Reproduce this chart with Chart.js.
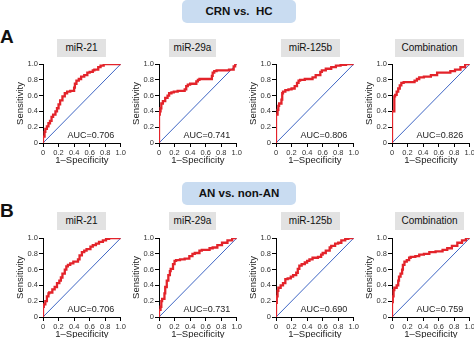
<!DOCTYPE html>
<html>
<head>
<meta charset="utf-8">
<script src="https://cdn.jsdelivr.net/npm/chart.js@4.4.1/dist/chart.umd.min.js"></script>
<style>
  body { margin: 0; width: 474px; height: 338px; overflow: hidden; background: #fff; position: relative;
         font-family: 'Liberation Sans', Arial, sans-serif; color: #111; }
  .group { position: absolute; background: #c9dcf1; border-radius: 5px; font-weight: bold; font-size: 11.5px;
           text-align: center; white-space: pre; }
  .marker { position: absolute; background: #e2e2e2; font-size: 10px; text-align: center; height: 18px; line-height: 18px; }
  .letter { position: absolute; font-weight: bold; font-size: 19px; }
  canvas { position: absolute; }
</style>
</head>
<body>
<script>
const markers = ['miR-21', 'miR-29a', 'miR-125b', 'Combination'];
const groups = ['CRN vs.  HC', 'AN vs. non-AN'];
const aucCrn = ['0.706', '0.741', '0.806', '0.826'];
const aucAn = ['0.706', '0.731', '0.690', '0.759'];
const tickLabels = ['0', '0.2', '0.4', '0.6', '0.8', '1.0'];

// ROC points as [1-specificity, sensitivity]
const crnMiR21 = [[0,0],[0,0.04],[0.02,0.08],[0.03,0.14],[0.05,0.18],[0.07,0.21],[0.09,0.25],[0.11,0.28],[0.13,0.33],[0.16,0.36],[0.18,0.40],[0.20,0.44],[0.22,0.49],[0.25,0.54],[0.28,0.59],[0.31,0.63],[0.35,0.65],[0.40,0.66],[0.41,0.70],[0.43,0.75],[0.46,0.79],[0.49,0.81],[0.53,0.84],[0.57,0.86],[0.60,0.89],[0.64,0.90],[0.66,0.92],[0.71,0.93],[0.74,0.96],[0.78,0.98],[0.82,1],[1,1]];
const crnMiR29a = [[0,0],[0,0.10],[0,0.23],[0.01,0.36],[0.02,0.40],[0.03,0.44],[0.05,0.50],[0.08,0.53],[0.11,0.57],[0.13,0.60],[0.16,0.63],[0.19,0.64],[0.24,0.65],[0.33,0.66],[0.35,0.68],[0.37,0.72],[0.40,0.74],[0.48,0.75],[0.50,0.78],[0.52,0.80],[0.58,0.81],[0.68,0.81],[0.69,0.85],[0.71,0.89],[0.74,0.91],[0.81,0.92],[0.90,0.92],[0.96,0.93],[0.98,0.97],[1,1]];
const crnMiR125b = [[0,0],[0,0.17],[0,0.33],[0.02,0.36],[0.03,0.42],[0.04,0.47],[0.07,0.50],[0.08,0.55],[0.09,0.63],[0.12,0.65],[0.16,0.67],[0.20,0.68],[0.24,0.69],[0.27,0.72],[0.29,0.76],[0.31,0.79],[0.37,0.80],[0.43,0.81],[0.47,0.81],[0.51,0.83],[0.57,0.86],[0.59,0.90],[0.64,0.92],[0.71,0.94],[0.77,0.96],[0.83,0.98],[0.90,0.99],[1,1]];
const crnCombo = [[0,0],[0,0.19],[0,0.38],[0.03,0.40],[0.03,0.48],[0.04,0.59],[0.06,0.61],[0.08,0.65],[0.10,0.69],[0.12,0.73],[0.15,0.76],[0.20,0.77],[0.29,0.77],[0.32,0.79],[0.35,0.81],[0.41,0.83],[0.50,0.84],[0.58,0.86],[0.67,0.89],[0.75,0.89],[0.81,0.91],[0.88,0.93],[0.94,0.96],[1,1]];
const anMiR21 = [[0,0],[0,0.09],[0.01,0.13],[0.03,0.16],[0.05,0.20],[0.07,0.26],[0.08,0.30],[0.12,0.31],[0.15,0.35],[0.18,0.38],[0.21,0.43],[0.23,0.46],[0.25,0.50],[0.28,0.55],[0.30,0.60],[0.32,0.64],[0.35,0.66],[0.39,0.68],[0.45,0.70],[0.47,0.73],[0.50,0.78],[0.53,0.82],[0.56,0.84],[0.61,0.86],[0.64,0.89],[0.68,0.91],[0.72,0.93],[0.77,0.95],[0.81,0.97],[0.85,0.99],[0.91,1],[1,1]];
const anMiR29a = [[0,0],[0,0.05],[0.02,0.09],[0.03,0.13],[0.04,0.20],[0.07,0.23],[0.08,0.30],[0.10,0.38],[0.12,0.46],[0.14,0.53],[0.15,0.58],[0.18,0.61],[0.20,0.67],[0.22,0.71],[0.27,0.72],[0.33,0.73],[0.39,0.74],[0.43,0.77],[0.46,0.80],[0.52,0.81],[0.55,0.84],[0.65,0.85],[0.69,0.87],[0.75,0.88],[0.81,0.91],[0.88,0.94],[0.94,0.97],[1,1]];
const anMiR125b = [[0,0],[0,0.07],[0.01,0.18],[0.02,0.26],[0.03,0.33],[0.06,0.37],[0.09,0.40],[0.12,0.43],[0.15,0.48],[0.19,0.49],[0.22,0.51],[0.26,0.53],[0.28,0.56],[0.30,0.61],[0.33,0.65],[0.37,0.67],[0.40,0.69],[0.43,0.71],[0.47,0.73],[0.54,0.75],[0.58,0.76],[0.60,0.79],[0.64,0.81],[0.69,0.84],[0.71,0.88],[0.76,0.90],[0.80,0.93],[0.84,0.94],[0.89,0.97],[0.93,0.99],[1,1]];
const anCombo = [[0,0],[0,0.11],[0.01,0.19],[0.02,0.26],[0.03,0.34],[0.06,0.37],[0.08,0.40],[0.09,0.46],[0.11,0.51],[0.13,0.55],[0.14,0.60],[0.16,0.66],[0.19,0.70],[0.22,0.72],[0.24,0.75],[0.30,0.76],[0.35,0.77],[0.41,0.79],[0.48,0.80],[0.56,0.82],[0.65,0.83],[0.71,0.85],[0.77,0.87],[0.84,0.90],[0.90,0.94],[0.95,0.97],[1,1]];

// page layout
const plotLeft = [43, 159, 276, 392];
const plotW = 78, plotH = 79;
const markerBox = [[57, 49], [169, 47], [281, 59], [395, 69]];
const rows = [
  { letter: 'A', letterTop: 26, groupTop: 0, markerTop: 39, top: 64, curves: [crnMiR21, crnMiR29a, crnMiR125b, crnCombo], auc: aucCrn },
  { letter: 'B', letterTop: 200, groupTop: 182, markerTop: 212, top: 238, curves: [anMiR21, anMiR29a, anMiR125b, anCombo], auc: aucAn }
];

const axisFont = { family: "'Liberation Sans', Arial, sans-serif", size: 9.5 };
const tickFont = { family: "'Liberation Sans', Arial, sans-serif", size: 7.5 };

const aucText = {
  id: 'aucText',
  afterDatasetsDraw(chart, args, opts) {
    const ctx = chart.ctx;
    ctx.save();
    ctx.font = "9px 'Liberation Sans', Arial, sans-serif";
    ctx.fillStyle = '#222';
    ctx.textAlign = 'center';
    ctx.textBaseline = 'middle';
    ctx.fillText('AUC=' + opts.value, chart.scales.x.getPixelForValue(0.615), chart.scales.y.getPixelForValue(0.1));
    ctx.restore();
  }
};

function addDiv(cls, text, style) {
  const d = document.createElement('div');
  d.className = cls;
  d.textContent = text;
  Object.assign(d.style, style);
  document.body.appendChild(d);
}

function axis(title, fitKey, fitSize, titlePad) {
  return {
    type: 'linear', min: 0, max: 1,
    afterBuildTicks: s => { s.ticks = tickLabels.map(t => ({ value: parseFloat(t) })); },
    ticks: { font: tickFont, color: '#333', padding: 1, autoSkip: false, maxRotation: 0, minRotation: 0,
             callback: (v, i) => tickLabels[i] },
    grid: { drawOnChartArea: false, drawTicks: true, tickLength: 4, color: '#000', lineWidth: 1 },
    border: { color: '#000', width: 1 },
    title: { display: true, text: title, font: axisFont, color: '#222', padding: titlePad },
    afterFit: s => { s[fitKey] = fitSize; }
  };
}

function makePanel(left, top, curve, auc) {
  const canvas = document.createElement('canvas');
  canvas.width = 42 + plotW + 6;
  canvas.height = 6 + plotH + 26;
  canvas.style.left = (left - 42) + 'px';
  canvas.style.top = (top - 6) + 'px';
  document.body.appendChild(canvas);

  new Chart(canvas, {
    type: 'line',
    data: {
      datasets: [
        { data: curve.map(p => ({ x: p[0], y: p[1] })), borderColor: '#e3232a', borderWidth: 2.3,
          stepped: 'after', pointRadius: 0, fill: false },
        { data: [{ x: 0, y: 0 }, { x: 1, y: 1 }], borderColor: '#3f66c4', borderWidth: 1,
          pointRadius: 0, fill: false }
      ]
    },
    options: {
      responsive: false,
      animation: false,
      layout: { padding: { top: 6, right: 6, left: 0, bottom: 0 } },
      plugins: { legend: { display: false }, tooltip: { enabled: false }, aucText: { value: auc } },
      scales: {
        x: axis('1\u2013Specificity', 'height', 26, { top: 0, bottom: 3 }),
        y: axis('Sensitivity', 'width', 42, { top: 14, bottom: 0 })
      }
    },
    plugins: [aucText]
  });
}

rows.forEach((row, r) => {
  addDiv('letter', row.letter, { left: '0px', top: row.letterTop + 'px' });
  addDiv('group', groups[r], { left: '182px', top: row.groupTop + 'px', width: '114px', height: '23px', lineHeight: '23px' });
  markers.forEach((m, c) => {
    addDiv('marker', m, { left: markerBox[c][0] + 'px', top: row.markerTop + 'px', width: markerBox[c][1] + 'px' });
    makePanel(plotLeft[c], row.top, row.curves[c], row.auc[c]);
  });
});
</script>
</body>
</html>
